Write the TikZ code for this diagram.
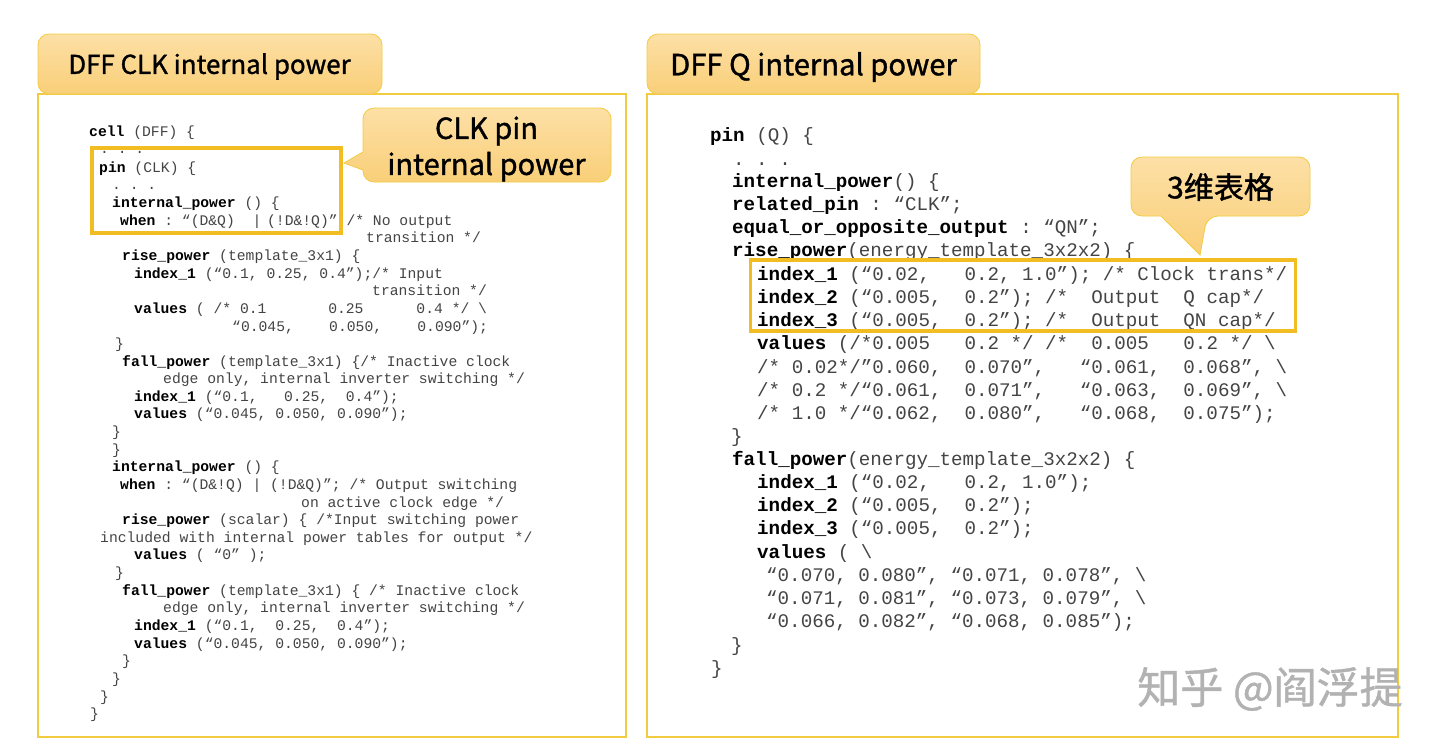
\documentclass[tikz,border=0pt]{standalone}
\usepackage{fontspec}
\setmonofont{Liberation Mono}
\newfontfamily\labelfont[FakeBold=1.2]{Noto Sans CJK SC}
\newfontfamily\markfont[FakeBold=1]{Noto Sans CJK SC}
\definecolor{panelline}{HTML}{F2CB40}
\definecolor{boxline}{HTML}{F1BD22}
\definecolor{tabtop}{HTML}{FDE0A6}
\definecolor{tabbottom}{HTML}{F9CF78}
\definecolor{codetext}{HTML}{444444}
\newcommand{\kw}[1]{\textbf{\textcolor{black}{#1}}}
\tikzset{
  panel/.style={draw=panelline, line width=1.3pt, fill=white},
  tab/.style={draw=panelline, line width=.8pt, top color=tabtop, bottom color=tabbottom, rounded corners=11pt},
  hilite/.style={draw=boxline, line width=3.6pt},
  label/.style={font=\labelfont, text=black, inner sep=0pt},
  codeL/.style={anchor=base west, inner sep=0pt, yshift=-1pt, text=codetext, font=\ttfamily\fontsize{14.7}{16}\selectfont},
  codeR/.style={anchor=base west, inner sep=0pt, text=codetext, font=\ttfamily\fontsize{19.2}{22}\selectfont}
}
\begin{document}
\begin{tikzpicture}[x=1pt, y=-1pt]
  \useasboundingbox (0,0) rectangle (1440,748);
  % panels and tabs
  \path [panel] (38,94) rectangle (626,737);
  \path [panel] (647,94) rectangle (1398,737);
  \path [tab] (38,34) rectangle (382,94);
  \path [tab] (647,34) rectangle (980,94);
  \node [label, font=\labelfont\fontsize{25.9}{30}\selectfont] (titleL) at (209.5,66.5) {DFF CLK internal power};
  \node [label, font=\labelfont\fontsize{29.2}{34}\selectfont] (titleR) at (813.5,67) {DFF Q internal power};
  % left listing
  \foreach \px/\py/\txt [count=\n] in {
    89/135/{\kw{cell} (DFF) \{},
    100/152/{. . .},
    99/171/{\kw{pin} (CLK) \{},
    112/188/{. . .},
    112/206/{\kw{internal\_power} () \{},
    120/224/{\kw{when} : “(D\&Q)~~|\kern-3pt~(!D\&!Q)”;/* No output},
    366/241/{transition */},
    122/259/{\kw{rise\_power} (template\_3x1) \{},
    134/277/{\kw{index\_1} (“0.1, 0.25, 0.4”);/* Input},
    372/294/{transition */},
    134/312/{\kw{values} ( /* 0.1~~~~~~~0.25~~~~~~0.4 */ \textbackslash},
    232/330/{“0.045,~~~~0.050,~~~~0.090”);},
    115/347/{\}},
    122/365/{\kw{fall\_power} (template\_3x1) \{/* Inactive clock},
    163/382/{edge only, internal inverter switching */},
    134/400/{\kw{index\_1} (“0.1,~~~0.25,~~0.4”);},
    134/417/{\kw{values} (“0.045, 0.050, 0.090”);},
    112/435/{\}},
    112/453/{\}},
    112/470/{\kw{internal\_power} () \{},
    120/488/{\kw{when} : “(D\&!Q)~|~(!D\&Q)”; /* Output switching},
    301/506/{on active clock edge */},
    122/523/{\kw{rise\_power} (scalar) \{ /*Input switching power},
    100/541/{included with internal power tables for output */},
    134/558/{\kw{values} ( “0” );},
    115/576/{\}},
    122/594/{\kw{fall\_power} (template\_3x1) \{ /* Inactive clock},
    163/611/{edge only, internal inverter switching */},
    134/629/{\kw{index\_1} (“0.1,~~0.25,~~0.4”);},
    134/647/{\kw{values} (“0.045, 0.050, 0.090”);},
    122/664/{\}},
    112/682/{\}},
    100/700/{\}},
    90/717/{\}}}
    \node [codeL] (lineL\n) at (\px,\py) {\txt};
  % right listing
  \foreach \px/\py/\txt [count=\n] in {
    710/141/{\kw{pin} (Q) \{},
    733/165/{. . .},
    732/187/{\kw{internal\_power}() \{},
    732/210/{\kw{related\_pin} : “CLK”;},
    732/233/{\kw{equal\_or\_opposite\_output} : “QN”;},
    732/256/{\kw{rise\_power}(energy\_template\_3x2x2) \{},
    757/280/{\kw{index\_1} (“0.02,~~~0.2, 1.0”); /* Clock trans*/},
    757/303/{\kw{index\_2} (“0.005,~~0.2”); /*~~Output~~Q cap*/},
    757/326/{\kw{index\_3} (“0.005,~~0.2”); /*~~Output~~QN cap*/},
    757/349/{\kw{values} (/*0.005~~~0.2 */ /*~~0.005~~~0.2 */ \textbackslash},
    757/373/{/* 0.02*/”0.060,~~0.070”,~~~“0.061,~~0.068”, \textbackslash},
    757/396/{/* 0.2 */“0.061,~~0.071”,~~~“0.063,~~0.069”, \textbackslash},
    757/419/{/* 1.0 */“0.062,~~0.080”,~~~“0.068,~~0.075”);},
    731/442/{\}},
    732/465/{\kw{fall\_power}(energy\_template\_3x2x2) \{},
    757/488/{\kw{index\_1} (“0.02,~~~0.2, 1.0”);},
    757/511/{\kw{index\_2} (“0.005,~~0.2”);},
    757/534/{\kw{index\_3} (“0.005,~~0.2”);},
    757/558/{\kw{values} ( \textbackslash},
    766/581/{“0.070, 0.080”, “0.071, 0.078”, \textbackslash},
    766/604/{“0.071, 0.081”, “0.073, 0.079”, \textbackslash},
    766/627/{“0.066, 0.082”, “0.068, 0.085”);},
    731/651/{\}},
    711/674/{\}}}
    \node [codeR] (lineR\n) at (\px,\py) {\txt};
  % highlight boxes
  \node [hilite, inner sep=0pt, minimum width=249pt, minimum height=85pt] (pinbox) at (216.5,190.5) {};
  \node [hilite, inner sep=0pt, minimum width=545pt, minimum height=71pt] (tablebox) at (1023,295.5) {};
  % callouts
  \path [tab] (363,108) -- (611,108) -- (611,182) -- (363,182) [sharp corners] -- (363,170) -- (344,163) -- (363,152) [rounded corners=11pt] -- cycle;
  \path [tab] (1131,157) -- (1310,157) -- (1310,216) -- (1207,216) [sharp corners] -- (1200,255) -- (1161,216) [rounded corners=11pt] -- (1131,216) -- cycle;
  \node [label, align=center, font=\labelfont\fontsize{29}{36}\selectfont] (clklabel) at (486.5,149) {CLK pin\\internal power};
  \node [label, font=\labelfont\fontsize{30}{34}\selectfont] (dimlabel) at (1220.5,187) {3维表格};
  % watermark
  \node [inner sep=0pt, text=black!30, font=\markfont\fontsize{43}{48}\selectfont] (mark) at (1270,689) {知乎 @阎浮提};
\end{tikzpicture}
\end{document}
